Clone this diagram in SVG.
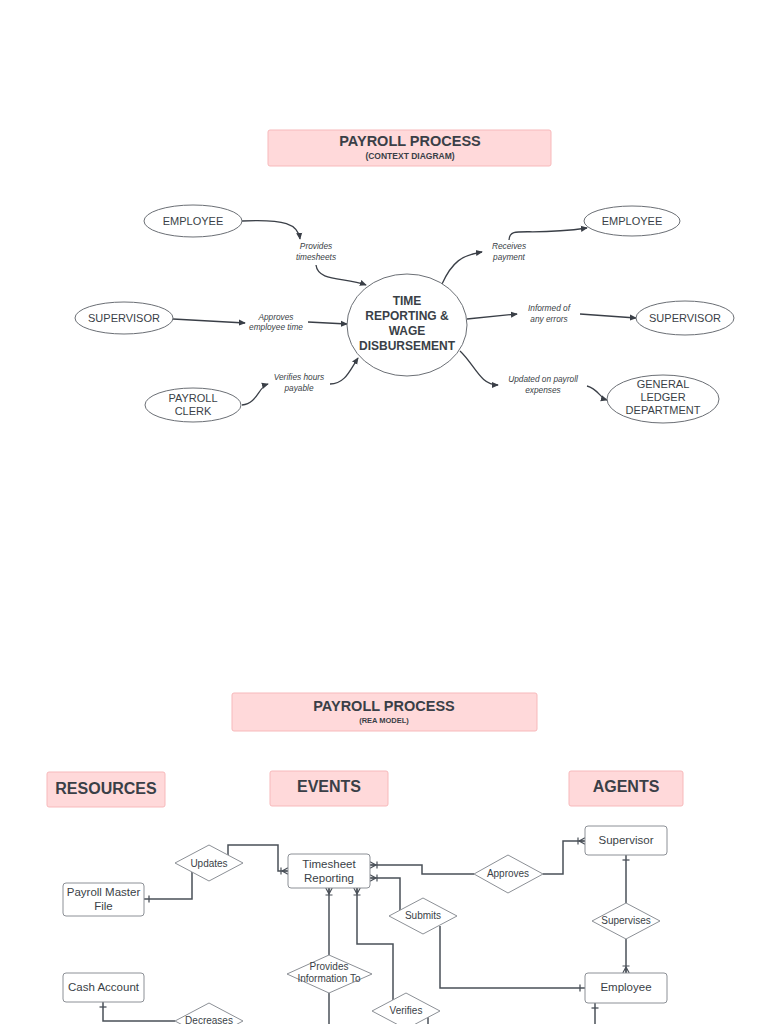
<svg xmlns="http://www.w3.org/2000/svg" width="768" height="1024" viewBox="0 0 768 1024">
<style>
.bg{fill:#ffffff}
.title{fill:#ffd9da;stroke:#f7b9bb;stroke-width:1}
.t1{font-family:"Liberation Sans",Arial,sans-serif;font-weight:bold;fill:#3a3f47;text-anchor:middle}
.ell{fill:#ffffff;stroke:#6b6f75;stroke-width:1}
.lbl{font-family:"Liberation Sans",Arial,sans-serif;font-size:11px;fill:#3a3f47;text-anchor:middle}
.it{font-family:"Liberation Sans",Arial,sans-serif;font-size:8.3px;font-style:italic;fill:#3a3f47;text-anchor:middle}
.flow{fill:none;stroke:#3a3f47;stroke-width:1.3}
.ent{fill:#ffffff;stroke:#8c9096;stroke-width:1}
.dia{fill:#ffffff;stroke:#8c9096;stroke-width:1}
.el{font-family:"Liberation Sans",Arial,sans-serif;font-size:11.5px;fill:#3a3f47;text-anchor:middle}
.dl{font-family:"Liberation Sans",Arial,sans-serif;font-size:10px;fill:#3a3f47;text-anchor:middle}
.rel{fill:none;stroke:#4a5058;stroke-width:1.5}
</style>
<defs>
<marker id="arr" viewBox="0 0 8 8" refX="7" refY="4" markerWidth="7" markerHeight="7" markerUnits="userSpaceOnUse" orient="auto">
<path d="M0,0.5 L8,4 L0,7.5 Z" fill="#3a3f47"/>
</marker>
<marker id="one" viewBox="0 0 10 10" refX="10" refY="5" markerWidth="10" markerHeight="10" markerUnits="userSpaceOnUse" orient="auto">
<path d="M5,1.5 V8.5" stroke="#4a5058" stroke-width="1.3" fill="none"/>
</marker>
<marker id="many" viewBox="0 0 10 10" refX="10" refY="5" markerWidth="10" markerHeight="10" markerUnits="userSpaceOnUse" orient="auto">
<path d="M3,1.5 V8.5 M4,5 L10,1.8 M4,5 L10,5 M4,5 L10,8.2" stroke="#4a5058" stroke-width="1.2" fill="none"/>
</marker>
</defs>
<rect class="bg" x="0" y="0" width="768" height="1024"/>

<!-- ===== CONTEXT DIAGRAM ===== -->
<g id="title-context">
<rect class="title" x="268" y="130" width="283" height="36" rx="2"/>
<text class="t1" x="410" y="146" font-size="14.5">PAYROLL PROCESS</text>
<text class="t1" x="410" y="158.5" font-size="8.5">(CONTEXT DIAGRAM)</text>
</g>

<g id="ctx-connectors">
<path class="flow" d="M242,221 C285,219 298,224 300,239" marker-end="url(#arr)"/>
<path class="flow" d="M316,265 C318,282 345,277 366,285" marker-end="url(#arr)"/>
<path class="flow" d="M173,319 L245,323" marker-end="url(#arr)"/>
<path class="flow" d="M308,322 L347,324" marker-end="url(#arr)"/>
<path class="flow" d="M242,405 C258,403 258,387 268,384" marker-end="url(#arr)"/>
<path class="flow" d="M330,384 C345,384 350,370 358,358" marker-end="url(#arr)"/>
<path class="flow" d="M442,284 C452,262 462,255 482,252" marker-end="url(#arr)"/>
<path class="flow" d="M509,240 C510,225 525,237 587,228" marker-end="url(#arr)"/>
<path class="flow" d="M467,319 L517,314" marker-end="url(#arr)"/>
<path class="flow" d="M580,314 L636,318" marker-end="url(#arr)"/>
<path class="flow" d="M460,351 C475,365 480,385 498,385" marker-end="url(#arr)"/>
<path class="flow" d="M587,386 C598,389 600,398 607,400" marker-end="url(#arr)"/>
</g>

<g id="ctx-labels">
<text class="it" x="316" y="249">Provides</text>
<text class="it" x="316" y="260">timesheets</text>
<text class="it" x="276" y="320">Approves</text>
<text class="it" x="276" y="330">employee time</text>
<text class="it" x="299" y="380">Verifies hours</text>
<text class="it" x="299" y="391">payable</text>
<text class="it" x="509" y="249">Receives</text>
<text class="it" x="509" y="260">payment</text>
<text class="it" x="549" y="311">Informed of</text>
<text class="it" x="549" y="322">any errors</text>
<text class="it" x="543" y="382">Updated on payroll</text>
<text class="it" x="543" y="393">expenses</text>
</g>

<g id="ctx-employee-left">
<ellipse class="ell" cx="193" cy="221" rx="49" ry="16"/>
<text class="lbl" x="193" y="225">EMPLOYEE</text>
</g>
<g id="ctx-supervisor-left">
<ellipse class="ell" cx="124" cy="318" rx="49" ry="16"/>
<text class="lbl" x="124" y="322">SUPERVISOR</text>
</g>
<g id="ctx-payroll-clerk">
<ellipse class="ell" cx="193" cy="405" rx="48" ry="17"/>
<text class="lbl" x="193" y="402">PAYROLL</text>
<text class="lbl" x="193" y="415">CLERK</text>
</g>
<g id="ctx-process">
<ellipse class="ell" cx="407" cy="325" rx="60" ry="51"/>
<text class="t1" x="407" y="305" font-size="12">TIME</text>
<text class="t1" x="407" y="320" font-size="12">REPORTING &amp;</text>
<text class="t1" x="407" y="335" font-size="12">WAGE</text>
<text class="t1" x="407" y="350" font-size="12">DISBURSEMENT</text>
</g>
<g id="ctx-employee-right">
<ellipse class="ell" cx="632" cy="221" rx="48" ry="15"/>
<text class="lbl" x="632" y="225">EMPLOYEE</text>
</g>
<g id="ctx-supervisor-right">
<ellipse class="ell" cx="685" cy="318" rx="49" ry="17"/>
<text class="lbl" x="685" y="322">SUPERVISOR</text>
</g>
<g id="ctx-gl">
<ellipse class="ell" cx="663" cy="399" rx="56" ry="24"/>
<text class="lbl" x="663" y="388">GENERAL</text>
<text class="lbl" x="663" y="401">LEDGER</text>
<text class="lbl" x="663" y="414">DEPARTMENT</text>
</g>

<!-- ===== REA MODEL ===== -->
<g id="title-rea">
<rect class="title" x="232" y="693" width="305" height="38" rx="2"/>
<text class="t1" x="384" y="711" font-size="14.5">PAYROLL PROCESS</text>
<text class="t1" x="384" y="723" font-size="7.5">(REA MODEL)</text>
</g>
<g id="hdr-resources">
<rect class="title" x="47" y="772" width="118" height="35" rx="2"/>
<text class="t1" x="106" y="794" font-size="16">RESOURCES</text>
</g>
<g id="hdr-events">
<rect class="title" x="270" y="771" width="118" height="35" rx="2"/>
<text class="t1" x="329" y="792" font-size="16">EVENTS</text>
</g>
<g id="hdr-agents">
<rect class="title" x="569" y="771" width="114" height="35" rx="2"/>
<text class="t1" x="626" y="792" font-size="16">AGENTS</text>
</g>

<g id="rea-connectors">
<path class="rel" d="M228,855 V845 H278 V871 H288" marker-end="url(#many)"/>
<path class="rel" d="M192,872 V899 H144" marker-end="url(#one)"/>
<path class="rel" d="M474,874 H422 V865 H370" marker-end="url(#many)"/>
<path class="rel" d="M543,874 H563 V841 H585" marker-end="url(#many)"/>
<path class="rel" d="M400,910 V878 H370" marker-end="url(#many)"/>
<path class="rel" d="M440,926 V988 H585" marker-end="url(#one)"/>
<path class="rel" d="M329,955 V888" marker-end="url(#many)"/>
<path class="rel" d="M329,993 V1024"/>
<path class="rel" d="M393,1000 V944 H357 V888" marker-end="url(#many)"/>
<path class="rel" d="M428,1024 V1005" marker-end="url(#one)"/>
<path class="rel" d="M626,903 V855" marker-end="url(#one)"/>
<path class="rel" d="M626,939 V973" marker-end="url(#many)"/>
<path class="rel" d="M595,1024 V1003" marker-end="url(#one)"/>
<path class="rel" d="M175,1021 H103 V1002" marker-end="url(#one)"/>
</g>

<g id="ent-payroll-master">
<rect class="ent" x="63" y="883" width="81" height="33" rx="3"/>
<text class="el" x="103.5" y="896">Payroll Master</text>
<text class="el" x="103.5" y="910">File</text>
</g>
<g id="rel-updates">
<polygon class="dia" points="175,863 209,845 243,863 209,881"/>
<text class="dl" x="209" y="867">Updates</text>
</g>
<g id="ent-timesheet">
<rect class="ent" x="288" y="854" width="82" height="34" rx="3"/>
<text class="el" x="329" y="868">Timesheet</text>
<text class="el" x="329" y="882">Reporting</text>
</g>
<g id="ent-cash">
<rect class="ent" x="63" y="973" width="81" height="29" rx="3"/>
<text class="el" x="103.5" y="991">Cash Account</text>
</g>
<g id="rel-decreases">
<polygon class="dia" points="175,1021 209,1003 243,1021 209,1039"/>
<text class="dl" x="209" y="1024">Decreases</text>
</g>
<g id="rel-provides">
<polygon class="dia" points="287,974 329,955 372,974 329,993"/>
<text class="dl" x="329" y="970">Provides</text>
<text class="dl" x="329" y="982">Information To</text>
</g>
<g id="rel-verifies">
<polygon class="dia" points="372,1011 406,993 440,1011 406,1029"/>
<text class="dl" x="406" y="1014">Verifies</text>
</g>
<g id="rel-submits">
<polygon class="dia" points="389,916 423,898 457,916 423,934"/>
<text class="dl" x="423" y="919">Submits</text>
</g>
<g id="rel-approves">
<polygon class="dia" points="474,874 508,855 543,874 508,893"/>
<text class="dl" x="508" y="877">Approves</text>
</g>
<g id="ent-supervisor">
<rect class="ent" x="585" y="826" width="82" height="29" rx="3"/>
<text class="el" x="626" y="844">Supervisor</text>
</g>
<g id="rel-supervises">
<polygon class="dia" points="592,921 626,903 660,921 626,939"/>
<text class="dl" x="626" y="924">Supervises</text>
</g>
<g id="ent-employee">
<rect class="ent" x="585" y="973" width="82" height="30" rx="3"/>
<text class="el" x="626" y="991">Employee</text>
</g>
</svg>
